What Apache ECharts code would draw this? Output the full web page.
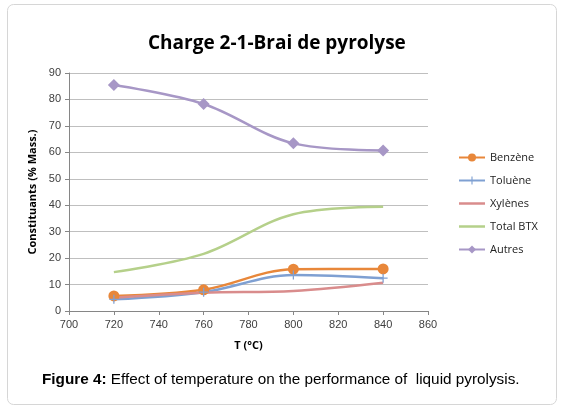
<!DOCTYPE html>
<html>
<head>
<meta charset="utf-8">
<script src="https://cdn.jsdelivr.net/npm/echarts@6/dist/echarts.min.js"></script>
<style>
  html, body { margin: 0; padding: 0; background: #fff; }
  #chart { width: 563px; height: 410px; }
</style>
</head>
<body>
<div id="chart"></div>
<script>
// temperatures (°C) and composition (% mass)
var temps = [720, 760, 800, 840];
var benzene = [5.7, 8.0, 15.8, 15.9];
var toluene = [4.4, 7.1, 13.6, 12.4];
var xylenes = [5.0, 6.9, 7.6, 10.7];
var totalBtx = [14.7, 21.6, 36.6, 39.4];
var autres = [85.5, 78.3, 63.4, 60.7];
var seriesNames = ['Benzène', 'Toluène', 'Xylènes', 'Total BTX', 'Autres'];

function pairs(vals) {
    return temps.map(function (t, i) { return [t, vals[i]]; });
}

var chart = echarts.init(document.getElementById('chart'));
var tickFont = { color: '#404040', fontSize: 11, fontFamily: 'Liberation Sans, Arial, sans-serif' };
var cross = 'path://M4.3,0h1.4v10h-1.4zM0,4.3h10v1.4h-10z';
var plainLine = 'path://M0,0h26v2.5h-26z';

function line(name, vals, color, symbol, size) {
    return {
        name: name,
        type: 'line',
        smooth: 0.35,
        data: pairs(vals),
        symbol: symbol,
        symbolSize: size,
        showSymbol: symbol !== 'none',
        lineStyle: { color: color, width: 2.5 },
        itemStyle: { color: color },
        emphasis: { disabled: true }
    };
}

var legendData = seriesNames.map(function (n) {
    if (n === 'Xylènes' || n === 'Total BTX') {
        return { name: n, icon: plainLine, itemStyle: { borderWidth: 0 } };
    }
    return { name: n };
});

chart.setOption({
    animation: false,
    title: {
        text: 'Charge 2-1-Brai de pyrolyse',
        left: 143, top: 29,
        textStyle: { fontFamily: 'Open Sans, sans-serif', fontWeight: 'bold', fontSize: 19, color: '#000' }
    },
    legend: {
        data: legendData,
        orient: 'vertical',
        left: 453, top: 147,
        itemWidth: 26, itemHeight: 10, itemGap: 12,
        textStyle: { color: '#222', fontSize: 11, fontFamily: 'Open Sans, sans-serif' }
    },
    grid: { left: 69, right: 135, top: 73, bottom: 99 },
    xAxis: {
        type: 'value', min: 700, max: 860, interval: 20,
        name: 'T (°C)', nameLocation: 'middle', nameGap: 29,
        nameTextStyle: { fontWeight: 'bold', fontSize: 11, color: '#000', fontFamily: 'Open Sans, sans-serif' },
        axisLine: { lineStyle: { color: '#868686' } },
        axisTick: { show: true, length: 4, lineStyle: { color: '#868686' } },
        axisLabel: tickFont,
        splitLine: { show: false }
    },
    yAxis: {
        type: 'value', min: 0, max: 90, interval: 10,
        name: 'Constituants (% Mass.)', nameLocation: 'middle', nameGap: 28,
        nameTextStyle: { fontWeight: 'bold', fontSize: 11, color: '#000', fontFamily: 'Open Sans, sans-serif' },
        axisLine: { show: true, lineStyle: { color: '#868686' } },
        axisTick: { show: true, length: 4, lineStyle: { color: '#868686' } },
        axisLabel: tickFont,
        splitLine: { lineStyle: { color: '#bfbfbf' } }
    },
    graphic: [
        {
            type: 'rect', left: 7, top: 4, z: -1,
            shape: { width: 549, height: 400, r: 6 },
            style: { fill: '#fff', stroke: '#d6d6d6', lineWidth: 1 }
        },
        {
            type: 'text', left: 42, top: 372,
            style: {
                text: '{b|Figure 4:} Effect of temperature on the performance of  liquid pyrolysis.',
                rich: {
                    b: { fontWeight: 'bold', fontSize: 15.3, fontFamily: 'Liberation Sans, Arial, sans-serif', fill: '#000' }
                },
                fontSize: 15.3, fontFamily: 'Liberation Sans, Arial, sans-serif', fill: '#000'
            }
        }
    ],
    series: [
        line('Benzène', benzene, '#E8873A', 'circle', 11),
        line('Toluène', toluene, '#7FA0D2', cross, 9),
        line('Xylènes', xylenes, '#D98C8C', 'none', 0),
        line('Total BTX', totalBtx, '#B5D08A', 'none', 0),
        line('Autres', autres, '#A797C6', 'diamond', 12)
    ]
});
</script>
</body>
</html>
